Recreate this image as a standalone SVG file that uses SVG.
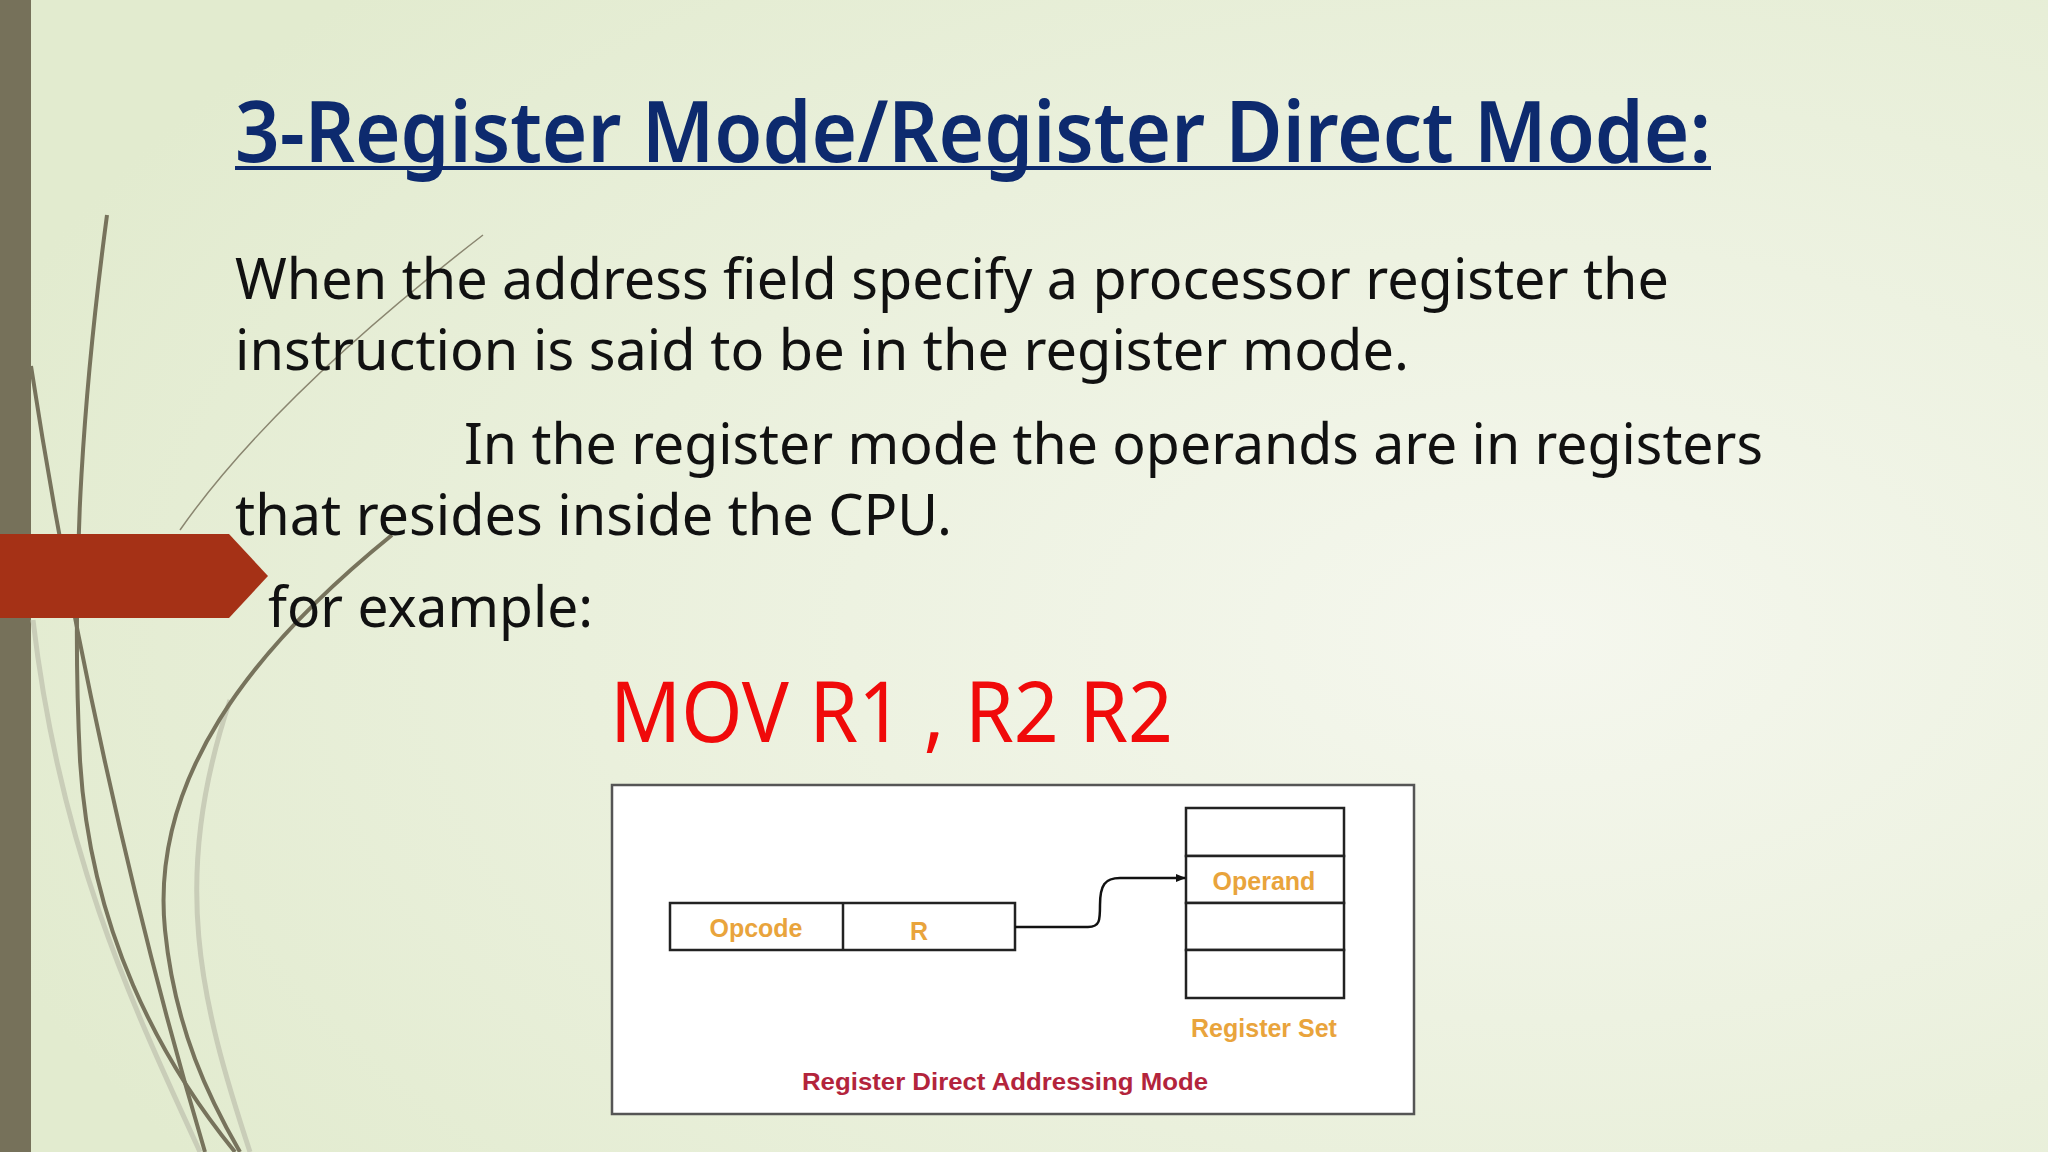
<svg xmlns="http://www.w3.org/2000/svg" width="2048" height="1152" viewBox="0 0 2048 1152">
<defs>
<radialGradient id="bg" cx="0.75" cy="0.55" r="0.8">
<stop offset="0" stop-color="#f5f7ee"/>
<stop offset="1" stop-color="#e2ebcf"/>
</radialGradient>
<marker id="ah" markerWidth="10" markerHeight="10" refX="9" refY="5" orient="auto" markerUnits="userSpaceOnUse">
<path d="M0,1 L10,5 L0,9 Z" fill="#111"/>
</marker>
<style>
.curve{fill:none;stroke:#77735c;stroke-width:4}
.thin{fill:none;stroke:#8a8670;stroke-width:1.5}
.light{fill:none;stroke:#c9cdb8;stroke-width:5}
.body{font-family:"Noto Sans","Open Sans",sans-serif;font-size:57px;fill:#111}
.cell{fill:#fff;stroke:#222;stroke-width:2.5}
.lbl{font-family:"Liberation Sans",Arial,sans-serif;font-weight:bold;font-size:25px;fill:#e9a43c;text-anchor:middle}
</style>
</defs>
<rect width="2048" height="1152" fill="url(#bg)"/>
<g id="decor">
<rect x="0" y="0" width="31" height="1152" fill="#76715a"/>
<path class="light" d="M33,620 C60,850 130,1000 200,1152"/>
<path class="light" d="M250,1152 C200,1000 170,880 230,700"/>
<path class="curve" d="M107,215 C85,380 70,560 80,760 C90,930 160,1060 235,1152"/>
<path class="curve" d="M31,366 C70,620 130,900 205,1152"/>
<path class="curve" d="M392,535 C250,650 150,780 165,930 C175,1030 210,1100 240,1152"/>
<path class="thin" d="M483,235 C360,330 250,430 180,530"/>
<path id="arrowshape" d="M0,534 L229,534 L268,576 L229,618 L0,618 Z" fill="#a53116"/>
</g>
<g id="title">
<text x="235" y="162" font-family="Noto Sans,Open Sans,sans-serif" font-weight="600" font-size="84" fill="#0d2a6e" textLength="1476" lengthAdjust="spacingAndGlyphs">3-Register Mode/Register Direct Mode:</text>
<rect x="235" y="166" width="1476" height="4" fill="#0d2a6e"/>
</g>
<g id="text">
<text class="body" x="235" y="299" textLength="1434" lengthAdjust="spacingAndGlyphs">When the address field specify a processor register the</text>
<text class="body" x="235" y="370" textLength="1174" lengthAdjust="spacingAndGlyphs">instruction is said to be in the register mode.</text>
<text class="body" x="464" y="464" textLength="1299" lengthAdjust="spacingAndGlyphs">In the register mode the operands are in registers</text>
<text class="body" x="235" y="535" textLength="717" lengthAdjust="spacingAndGlyphs">that resides inside the CPU.</text>
<text class="body" x="268" y="627" textLength="325" lengthAdjust="spacingAndGlyphs">for example:</text>
<text x="610" y="742" font-family="Noto Sans,Open Sans,sans-serif" font-size="84" fill="#f00a0a" textLength="563" lengthAdjust="spacingAndGlyphs">MOV R1 , R2 R2</text>
</g>
<g id="figure">
<rect x="612" y="785" width="802" height="329" fill="#fff" stroke="#555" stroke-width="2.5"/>
</g>
<g id="instruction">
<rect class="cell" x="670" y="903" width="345" height="47"/>
<line x1="843" y1="903" x2="843" y2="950" stroke="#222" stroke-width="2.5"/>
<text class="lbl" x="756" y="937">Opcode</text>
<text class="lbl" x="919" y="940">R</text>
</g>
<g id="registers">
<rect class="cell" x="1186" y="808" width="158" height="48"/>
<rect class="cell" x="1186" y="856" width="158" height="47"/>
<rect class="cell" x="1186" y="903" width="158" height="47"/>
<rect class="cell" x="1186" y="950" width="158" height="48"/>
<text class="lbl" x="1264" y="890">Operand</text>
<text class="lbl" x="1264" y="1037">Register Set</text>
</g>
<g id="connectors">
<path d="M1015,927 L1088,927 C1100,927 1100,920 1100,905 C1100,885 1105,878 1120,878 L1185,878" fill="none" stroke="#111" stroke-width="2.5" marker-end="url(#ah)"/>
</g>
<g id="caption">
<text x="802" y="1090" font-family="Liberation Sans,Arial,sans-serif" font-weight="bold" font-size="24" fill="#b3243c" textLength="406" lengthAdjust="spacingAndGlyphs">Register Direct Addressing Mode</text>
</g>
</svg>
